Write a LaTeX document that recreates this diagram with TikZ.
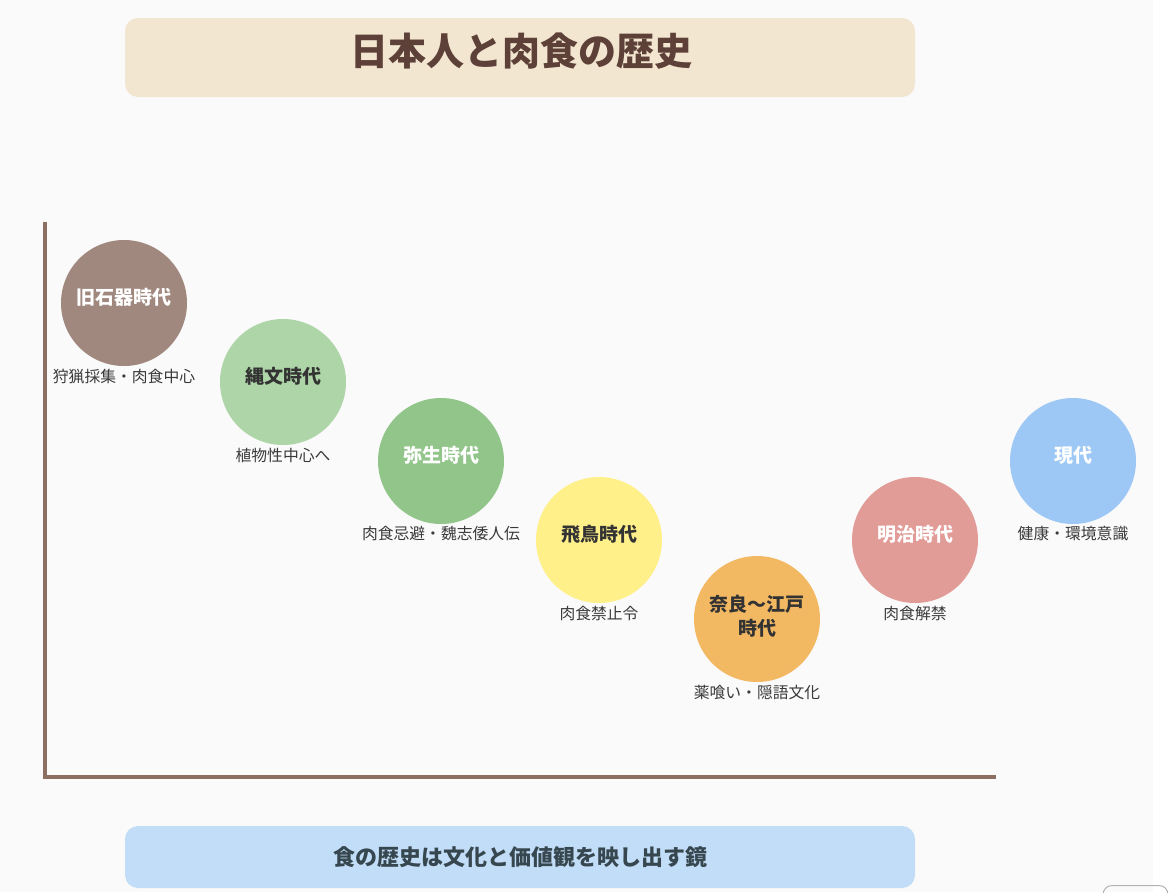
\documentclass[tikz,border=0pt]{standalone}
\usepackage{fontspec}
\setmainfont{Noto Sans CJK JP}
\definecolor{bg}{HTML}{FAFAFA}
\definecolor{titlefill}{HTML}{F2E6D0}
\definecolor{titletext}{HTML}{5D4037}
\definecolor{axiscol}{HTML}{8D6E63}
\definecolor{cA}{HTML}{A1887F}
\definecolor{cB}{HTML}{AED5A8}
\definecolor{cC}{HTML}{92C58A}
\definecolor{cD}{HTML}{FFF08A}
\definecolor{cE}{HTML}{F3B962}
\definecolor{cF}{HTML}{E29C98}
\definecolor{cG}{HTML}{9DC8F5}
\definecolor{bottomfill}{HTML}{C2DDF7}
\definecolor{bottomtext}{HTML}{37474F}
\definecolor{darktext}{HTML}{333333}
\definecolor{labtext}{HTML}{3A3A3A}
\tikzset{
  era/.style={circle, minimum size=126pt, inner sep=0pt},
  eratitle/.style={font=\fontsize{19}{23}\selectfont\bfseries, align=center, inner sep=0pt},
  eralab/.style={font=\fontsize{15.8}{18}\selectfont, text=labtext, inner sep=0pt},
  axisline/.style={draw=axiscol, line width=4pt},
  banner/.style={rounded corners=13pt, inner sep=0pt},
}
\begin{document}
\begin{tikzpicture}[x=1pt,y=-1pt]
\useasboundingbox (0,0) rectangle (1170,892);
\fill[bg] (0,0) rectangle (1153,892);
\fill[white] (1153,0) rectangle (1170,892);
\draw[draw=black!30, line width=1pt, rounded corners=9pt] (1103,900) -- (1103,885.5) -- (1168,885.5) -- (1168,900);

% title
\node[banner, fill=titlefill, minimum width=790pt, minimum height=79pt] (title) at (520,57.5) {};
\node[font=\fontsize{38}{42}\selectfont\bfseries, text=titletext, inner sep=0pt] (titletxt) at (521,51) {日本人と肉食の歴史};

% axes
\coordinate (axtop) at (45,222);
\coordinate (axcorner) at (45,777);
\coordinate (axright) at (996,777);
\draw[axisline] (axtop) -- (axcorner) -- (axright);

% eras
\node[era, fill=cA] (e1) at (124,303) {};
\node[eratitle, text=white] (t1) at (124,297) {旧石器時代};
\node[eralab] (l1) at (124,377) {狩猟採集・肉食中心};

\node[era, fill=cB] (e2) at (283,382) {};
\node[eratitle, text=darktext] (t2) at (283,376) {縄文時代};
\node[eralab] (l2) at (283,455) {植物性中心へ};

\node[era, fill=cC] (e3) at (441,461) {};
\node[eratitle, text=white] (t3) at (441,455) {弥生時代};
\node[eralab] (l3) at (441,534) {肉食忌避・魏志倭人伝};

\node[era, fill=cD] (e4) at (599,540) {};
\node[eratitle, text=darktext] (t4) at (599,534) {飛鳥時代};
\node[eralab] (l4) at (599,613) {肉食禁止令};

\node[era, fill=cE] (e5) at (757,619) {};
\node[eratitle, text=darktext, font=\fontsize{19}{23.5}\selectfont\bfseries] (t5) at (757,616) {奈良〜江戸\\時代};
\node[eralab] (l5) at (757,692) {薬喰い・隠語文化};

\node[era, fill=cF] (e6) at (915,540) {};
\node[eratitle, text=white] (t6) at (915,534) {明治時代};
\node[eralab] (l6) at (915,613) {肉食解禁};

\node[era, fill=cG] (e7) at (1073,461) {};
\node[eratitle, text=white] (t7) at (1073,455) {現代};
\node[eralab] (l7) at (1073,534) {健康・環境意識};

% bottom banner
\node[banner, fill=bottomfill, minimum width=790pt, minimum height=62pt] (bottom) at (520,857) {};
\node[font=\fontsize{22}{26}\selectfont\bfseries, text=bottomtext, inner sep=0pt] (bottomtxt) at (520,857) {食の歴史は文化と価値観を映し出す鏡};
\end{tikzpicture}
\end{document}
